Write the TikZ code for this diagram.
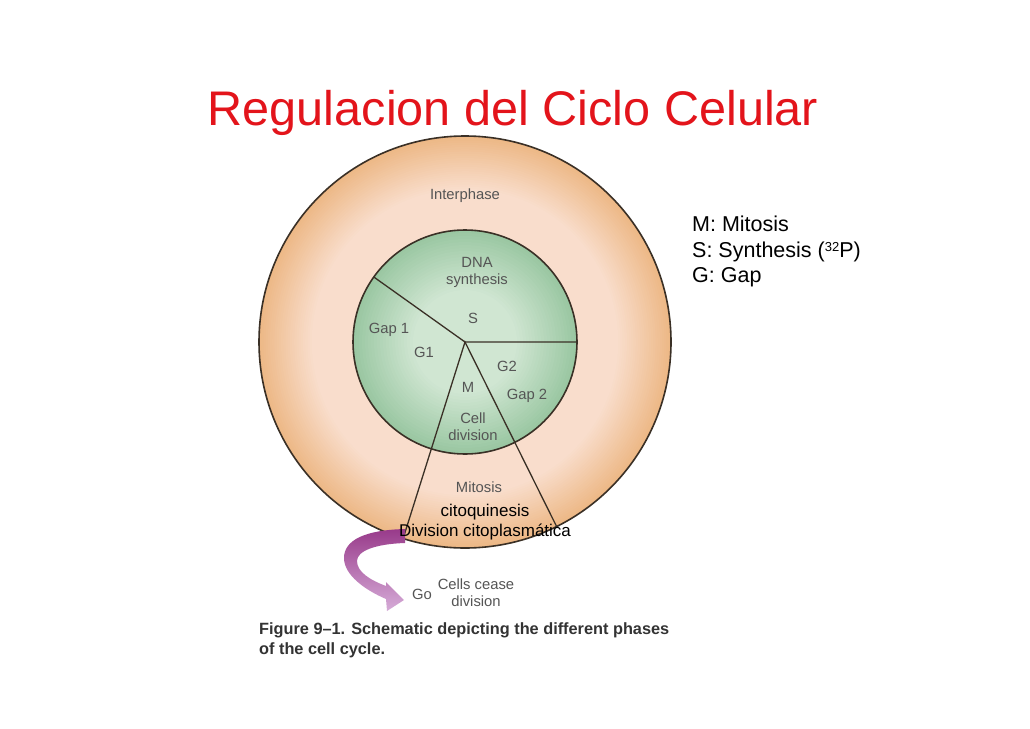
\documentclass[tikz,border=0pt]{standalone}
\usepackage{fontspec}
\setmainfont{Liberation Sans}
\definecolor{peachout}{HTML}{EDB886}
\definecolor{peachin}{HTML}{F9DFCF}
\definecolor{greenrim}{HTML}{9AC7A2}
\definecolor{greenin}{HTML}{D0E6D2}
\definecolor{labgray}{HTML}{555555}
\definecolor{capgray}{HTML}{333333}
\definecolor{titlered}{HTML}{E3141B}
\definecolor{arrowdark}{HTML}{983A8A}
\definecolor{arrowlight}{HTML}{D6ACD8}
\definecolor{rimline}{HTML}{3A3026}
\begin{document}
\begin{tikzpicture}[x=1pt,y=-1pt,
  lab/.style={text=labgray, font=\fontsize{14.8}{17}\selectfont, align=center, inner sep=0pt},
  note/.style={text=black, font=\fontsize{21.5}{25}\selectfont, anchor=base west, inner sep=0pt},
  blk/.style={text=black, font=\fontsize{17}{20}\selectfont, align=center, inner sep=0pt},
  captext/.style={text=capgray, font=\bfseries\fontsize{16.3}{20}\selectfont, anchor=base west, inner sep=0pt},
  divline/.style={rimline, line width=1.3pt},
  rim/.style={rimline, line width=1.6pt}]
\useasboundingbox (0,0) rectangle (1030,728);
\fill[white] (0,0) rectangle (1030,728);
\coordinate (c) at (465,342);
% outer ring (interphase)
\foreach \i in {0,...,24} {
  \pgfmathsetmacro\rr{206-\i*2.2}
  \pgfmathtruncatemacro\p{100-\i*4}
  \fill[peachout!\p!peachin] (c) circle[radius=\rr pt];
}
\draw[rim] (c) circle[radius=206pt];
% inner circle
\foreach \i in {0,...,20} {
  \pgfmathsetmacro\rr{112-\i*3}
  \pgfmathtruncatemacro\p{100-\i*5}
  \fill[greenrim!\p!greenin] (c) circle[radius=\rr pt];
}
\draw[rim] (c) circle[radius=112pt];
% dividing lines
\coordinate (sl) at (373.8,277);
\coordinate (sr) at (577,342);
\coordinate (ml) at (403.1,538.5);
\coordinate (mr) at (556.6,526.5);
\draw[divline] (sl) -- (c) -- (sr);
\draw[divline] (ml) -- (c) -- (mr);
% G0 arrow
\shade[top color=arrowdark, bottom color=arrowlight]
  (405,529) .. controls (365,530) and (344,540) .. (344,558)
  .. controls (344,575) and (365,590) .. (386,599)
  -- (387,611) -- (404,600) -- (386,582) -- (386,586)
  .. controls (370,580) and (357,572) .. (357,561)
  .. controls (357,551) and (375,544) .. (405,543) -- cycle;
% title
\node[text=titlered, font=\fontsize{48.6}{56}\selectfont, anchor=base, inner sep=0pt] (title) at (513,125) {Regulacion del Ciclo Celular};
% labels
\node[lab] (inter) at (465,196) {Interphase};
\node[lab] (dna) at (477,272) {DNA\\synthesis};
\node[lab] (s) at (473,318) {S};
\node[lab] (gap1) at (389,330) {Gap 1};
\node[lab] (g1) at (424,352) {G1};
\node[lab] (g2) at (507,366) {G2};
\node[lab] (m) at (468,387) {M};
\node[lab] (gap2) at (527,396) {Gap 2};
\node[lab] (celldiv) at (473,427) {Cell\\division};
\node[lab] (mitosis) at (479,487) {Mitosis};
\node[blk] (cito) at (485,522) {citoquinesis\\Division citoplasmática};
\node[lab] (go) at (422,594) {Go};
\node[lab] (cease) at (476,593) {Cells cease\\division};
% legend
\node[note] (lm) at (692,231) {M: Mitosis};
\node[note] (ls) at (692,257) {S: Synthesis (\raisebox{6pt}{\fontsize{13}{13}\selectfont 32}P)};
\node[note] (lg) at (692,282) {G: Gap};
% caption
\node[captext] (cap1) at (259,634) {Figure 9–1. Schematic depicting the different phases};
\node[captext] (cap2) at (259,654) {of the cell cycle.};
\end{tikzpicture}
\end{document}
